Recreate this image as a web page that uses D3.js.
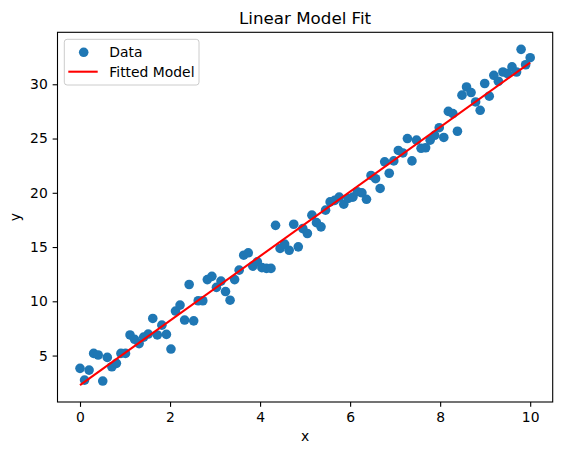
<!DOCTYPE html>
<html>
<head>
	<script src="https://d3js.org/d3.v7.min.js"></script>
	<style>
		body { margin: 0; background: #fff; }
		text { font-family: "DejaVu Sans", sans-serif; }
	</style>
</head>
<body>
	<svg width="562" height="455"></svg>
	<script>
		// scatter values, x = linspace(0, 10, 100)
		var yData = [
			3.82, 2.74, 3.66, 5.2, 5.05, 2.65, 4.83, 3.97, 4.28, 5.2,
			5.2, 6.9, 6.5, 6.1, 6.7, 6.98, 8.42, 6.9, 7.8, 6.95,
			5.6, 9.1, 9.65, 8.27, 11.55, 8.2, 10.05, 10.05, 12.0, 12.3,
			11.28, 11.86, 10.9, 10.1, 12.0, 12.87, 14.25, 14.47, 13.24, 13.64,
			13.1, 13.03, 13.03, 17.0, 14.87, 15.27, 14.7, 17.1, 15.02, 16.7,
			16.25, 17.94, 17.25, 16.86, 18.4, 19.16, 19.3, 19.6, 18.95, 19.48,
			19.6, 20.1, 20.0, 19.4, 21.6, 21.3, 20.4, 22.85, 21.8, 22.94,
			23.9, 23.67, 25.0, 22.94, 24.85, 24.1, 24.15, 24.85, 25.3, 26.0,
			25.1, 27.5, 27.3, 25.67, 29.0, 29.75, 29.24, 28.37, 27.6, 30.07,
			28.9, 30.83, 30.28, 31.13, 30.98, 31.6, 31.13, 33.22, 31.8, 32.45
		];
		var xData = yData.map((d, i) => i * 10 / 99);

		// fitted line endpoints
		var fitX = [0, 10];
		var fitY = [2.27, 32.0];

		var xTicks = [0, 2, 4, 6, 8, 10];
		var yTicks = [5, 10, 15, 20, 25, 30];

		var margin = { top: 32.3, right: 9.3, bottom: 53, left: 57.5 };
		var width = 562, height = 455;
		var dotR = 4.8;

		var x = d3.scaleLinear()
			.domain([-0.5, 10.5])
			.range([margin.left, width - margin.right]);

		var y = d3.scaleLinear()
			.domain([0.72, 34.79])
			.range([height - margin.bottom, margin.top]);

		var svg = d3.select("svg");

		var data = xData.map((d, i) => ({ x: d, y: yData[i] }));

		// points
		svg.append("g")
			.selectAll("circle")
			.data(data)
			.join("circle")
			.attr("cx", d => x(d.x))
			.attr("cy", d => y(d.y))
			.attr("r", dotR)
			.attr("fill", "#1f77b4");

		// fitted model
		var line = d3.line().x(d => x(d[0])).y(d => y(d[1]));
		svg.append("path")
			.datum(fitX.map((d, i) => [d, fitY[i]]))
			.attr("d", line)
			.attr("fill", "none")
			.attr("stroke", "red")
			.attr("stroke-width", 2.08);

		// frame
		svg.append("rect")
			.attr("x", margin.left)
			.attr("y", margin.top)
			.attr("width", width - margin.left - margin.right)
			.attr("height", height - margin.top - margin.bottom)
			.attr("fill", "none")
			.attr("stroke", "black")
			.attr("stroke-width", 1.1);

		var xAxis = g => g
			.attr("transform", `translate(0,${height - margin.bottom})`)
			.call(d3.axisBottom(x).tickValues(xTicks).tickSize(4.86).tickPadding(4.9).tickFormat(d3.format("d")))
			.call(g => g.select(".domain").remove());

		var yAxis = g => g
			.attr("transform", `translate(${margin.left},0)`)
			.call(d3.axisLeft(y).tickValues(yTicks).tickSize(4.86).tickPadding(4.9).tickFormat(d3.format("d")))
			.call(g => g.select(".domain").remove());

		svg.append("g").call(xAxis);
		svg.append("g").call(yAxis);

		svg.selectAll(".tick text")
			.attr("font-family", "DejaVu Sans")
			.attr("font-size", 13.9)
			.attr("fill", "#000");
		svg.selectAll(".tick line")
			.attr("stroke", "#000")
			.attr("stroke-width", 1.1);

		// title and axis labels
		svg.append("text")
			.attr("x", (margin.left + width - margin.right) / 2)
			.attr("y", 24)
			.attr("text-anchor", "middle")
			.attr("font-size", 16.7)
			.text("Linear Model Fit");

		svg.append("text")
			.attr("x", (margin.left + width - margin.right) / 2)
			.attr("y", 441)
			.attr("text-anchor", "middle")
			.attr("font-size", 13.9)
			.text("x");

		svg.append("text")
			.attr("transform", `translate(20,${(margin.top + height - margin.bottom) / 2}) rotate(-90)`)
			.attr("text-anchor", "middle")
			.attr("font-size", 13.9)
			.text("y");

		// legend
		var legend = svg.append("g");
		legend.append("rect")
			.attr("x", 64.3).attr("y", 39.3)
			.attr("width", 134.7).attr("height", 45.7)
			.attr("rx", 2.8)
			.attr("fill", "white").attr("fill-opacity", 0.8)
			.attr("stroke", "#cccccc").attr("stroke-width", 1);
		legend.append("circle")
			.attr("cx", 83.7).attr("cy", 52.3).attr("r", dotR)
			.attr("fill", "#1f77b4");
		legend.append("line")
			.attr("x1", 68.3).attr("x2", 97.7)
			.attr("y1", 71.7).attr("y2", 71.7)
			.attr("stroke", "red").attr("stroke-width", 2.08);
		legend.append("text")
			.attr("x", 109.3).attr("y", 57)
			.attr("font-size", 13.9)
			.text("Data");
		legend.append("text")
			.attr("x", 109.3).attr("y", 76.7)
			.attr("font-size", 13.9)
			.text("Fitted Model");
	</script>
</body>
</html>
